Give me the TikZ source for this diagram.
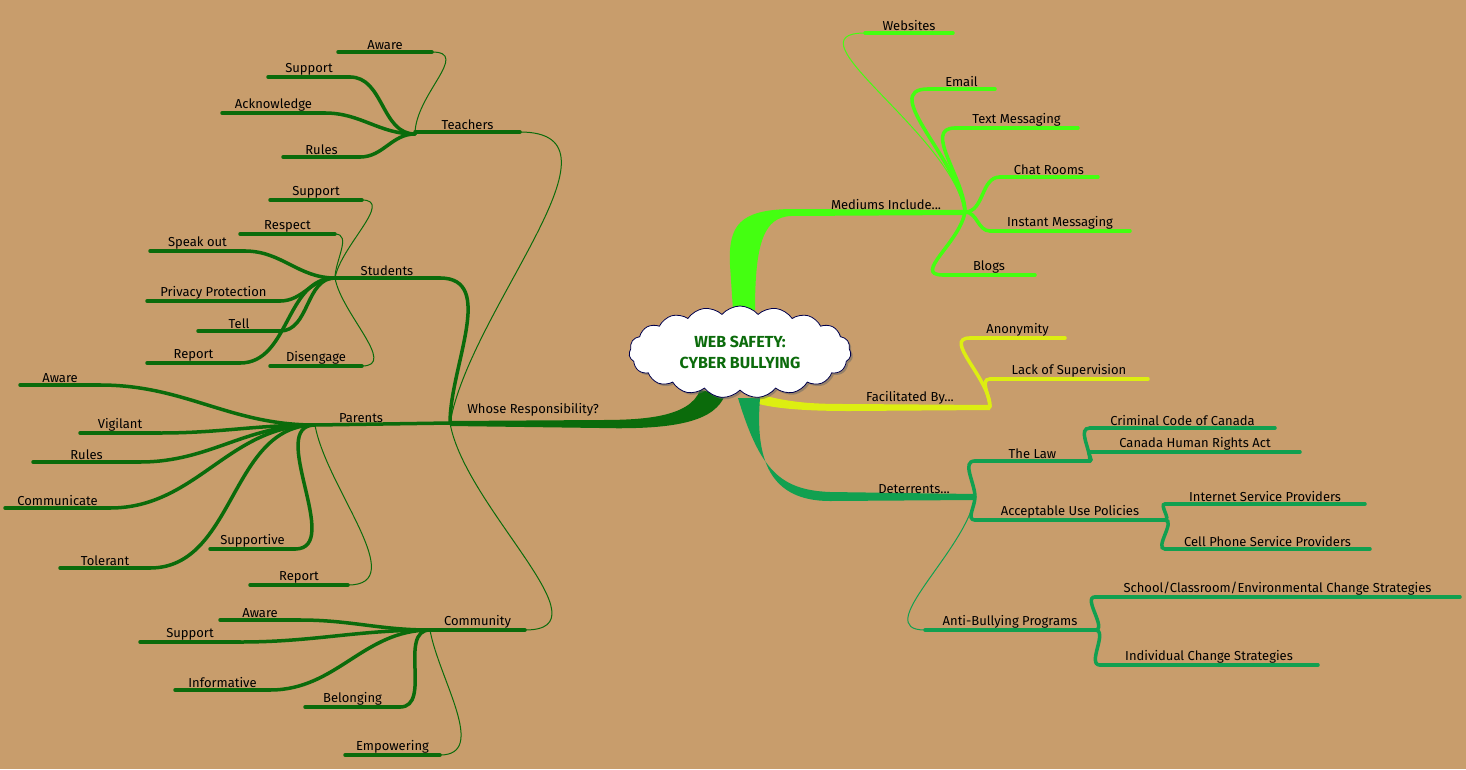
\documentclass[tikz,border=0pt]{standalone}
\usepackage{fontspec}
\setmainfont{Fira Sans}
\usetikzlibrary{shapes.symbols,calc,shadows}
\definecolor{bg}{HTML}{C89D6C}
\definecolor{dg}{HTML}{0B6B0B}
\definecolor{lg}{HTML}{44FF11}
\definecolor{yg}{HTML}{DDEE11}
\definecolor{tg}{HTML}{11A050}
\colorlet{bc}{dg}
\tikzset{br/.style={line width=3.5pt,draw=bc,line cap=round},
 thin/.style={line width=1pt},
 lbl/.style={font=\fontsize{13}{15}\selectfont,text=black,anchor=south,inner sep=2pt}}
% left leaf: #1 conn opts, #2 name, #3 hub, #4 xl, #5 xr, #6 y, #7 text
\newcommand\lfL[7]{\coordinate (#2a) at (#4,#6);\coordinate (#2b) at (#5,#6);
 \draw[br,#1] (#3) to[out=180,in=0] (#2b);\draw[br] (#2b) -- (#2a);
 \node[lbl] (#2) at ($(#2a)!.5!(#2b)$) {#7};}
\newcommand\lfLL[7]{\coordinate (#2a) at (#4,#6);\coordinate (#2b) at (#5,#6);
 \draw[br,thin] (#3) to[#1] (#2b);\draw[br] (#2b) -- (#2a);
 \node[lbl] (#2) at ($(#2a)!.5!(#2b)$) {#7};}
\newcommand\lfR[7]{\coordinate (#2a) at (#4,#6);\coordinate (#2b) at (#5,#6);
 \draw[br] (#3) to[out=0,in=180,#1] (#2a);\draw[br] (#2a) -- (#2b);
 \node[lbl] (#2) at ($(#2a)!.5!(#2b)$) {#7};}
\newcommand\lfRR[7]{\coordinate (#2a) at (#4,#6);\coordinate (#2b) at (#5,#6);
 \draw[br,thin] (#3) to[#1] (#2a);\draw[br] (#2a) -- (#2b);
 \node[lbl] (#2) at ($(#2a)!.5!(#2b)$) {#7};}
\begin{document}
\begin{tikzpicture}[x=1pt,y=-1pt]
\fill[bg] (0,0) rectangle (1466,769);
\useasboundingbox (0,0) rectangle (1466,769);
% ---------- left: whose responsibility
\coordinate (W) at (450,423);
\fill[dg] (700,390) .. controls (690,418) and (640,420) .. (600,420) -- (450,421) -- (450,426) -- (600,428) .. controls (680,430) and (715,420) .. (725,395) -- cycle;
\node[lbl] (whose) at (533,418) {Whose Responsibility?};
% Teachers
\lfLL{out=80,in=0}{teach}{W}{415}{520}{132}{Teachers}
\coordinate (T) at (415,134);
\lfLL{out=90,in=0,looseness=1.2}{taware}{T}{338}{432}{52}{Aware}
\lfL{}{tsupp}{T}{268}{350}{77}{Support}
\lfL{}{tack}{T}{222}{325}{113}{Acknowledge}
\lfL{}{trules}{T}{283}{360}{157}{Rules}
% Students
\coordinate (studb) at (440,278);
\draw[br] (W) to[out=90,in=0] (studb);
\draw[br] (studb) -- (335,278) coordinate (S);
\node[lbl] (stud) at (387,278) {Students};
\lfLL{out=80,in=0}{ssupp}{S}{270}{362}{200}{Support}
\lfLL{out=90,in=0}{sresp}{S}{240}{335}{234}{Respect}
\lfL{}{sspeak}{S}{150}{245}{251}{Speak out}
\lfL{}{spriv}{S}{147}{280}{301}{Privacy Protection}
\lfL{}{stell}{S}{198}{280}{331}{Tell}
\lfL{}{srep}{S}{147}{240}{363}{Report}
\lfLL{out=-80,in=0}{sdis}{S}{270}{362}{366}{Disengage}
% Parents
\draw[br] (W) -- (315,425) coordinate (P);
\node[lbl] (par) at (361,425) {Parents};
\lfL{}{paware}{P}{20}{100}{385}{Aware}
\lfL{}{pvig}{P}{80}{160}{433}{Vigilant}
\lfL{}{prules}{P}{33}{140}{462}{Rules}
\lfL{}{pcomm}{P}{5}{110}{508}{Communicate}
\lfL{}{ptol}{P}{60}{150}{568}{Tolerant}
\lfL{}{psupp}{P}{210}{295}{549}{Supportive}
\lfLL{out=-80,in=0}{prep}{P}{250}{348}{585}{Report}
% Community
\lfLL{out=-80,in=0}{comm}{W}{430}{525}{630}{Community}
\coordinate (C) at (430,630);
\lfL{}{caware}{C}{220}{300}{620}{Aware}
\lfL{}{csupp}{C}{140}{240}{642}{Support}
\lfL{}{cinf}{C}{175}{270}{690}{Informative}
\lfL{}{cbel}{C}{305}{400}{707}{Belonging}
\lfLL{out=-80,in=0}{cemp}{C}{345}{440}{755}{Empowering}
% ---------- right
\colorlet{bc}{lg}
\fill[lg] (733,310) -- (730,265) .. controls (728,225) and (740,210) .. (790,209) -- (965,210) -- (965,215) -- (790,216) .. controls (765,218) and (755,240) .. (755,310) -- cycle;
\coordinate (M) at (965,212);
\node[lbl] (med) at (886,212) {Mediums Include...};
\lfRR{out=100,in=180}{web}{M}{865}{953}{33}{Websites}
\lfR{out=95}{email}{M}{928}{995}{89}{Email}
\lfR{out=90}{text}{M}{955}{1078}{128}{Text Messaging}
\lfR{}{chat}{M}{1000}{1098}{177}{Chat Rooms}
\lfR{}{inst}{M}{990}{1130}{231}{Instant Messaging}
\lfR{out=260,looseness=1.2}{blogs}{M}{943}{1035}{275}{Blogs}
\colorlet{bc}{yg}
\fill[yg] (752,392) .. controls (790,404) and (820,404) .. (850,404) -- (990,405) -- (990,410) -- (850,411) .. controls (800,411) and (770,408) .. (752,402) -- cycle;
\coordinate (F) at (990,407);
\node[lbl] (fac) at (910,406) {Facilitated By...};
\lfR{out=90}{anon}{F}{970}{1065}{338}{Anonymity}
\lfR{out=90}{lack}{F}{990}{1148}{379}{Lack of Supervision}
\colorlet{bc}{tg}
\fill[tg] (738,398) .. controls (760,470) and (780,490) .. (830,492) -- (975,494) -- (975,500) -- (830,501) .. controls (770,501) and (755,460) .. (760,398) -- cycle;
\coordinate (D) at (975,497);
\node[lbl] (det) at (914,496) {Deterrents...};
\lfR{out=90}{law}{D}{975}{1090}{461}{The Law}
\lfR{out=90}{crim}{lawb}{1090}{1275}{428}{Criminal Code of Canada}
\lfR{}{chra}{lawb}{1090}{1300}{452}{Canada Human Rights Act}
\lfR{out=-90}{aup}{D}{975}{1165}{520}{Acceptable Use Policies}
\lfR{}{isp}{aupb}{1165}{1365}{504}{Internet Service Providers}
\lfR{}{cell}{aupb}{1165}{1370}{549}{Cell Phone Service Providers}
\lfRR{out=-100,in=180}{abp}{D}{925}{1095}{630}{Anti-Bullying Programs}
\lfR{}{school}{abpb}{1095}{1460}{597}{School/Classroom/Environmental Change Strategies}
\lfR{}{indiv}{abpb}{1100}{1318}{665}{Individual Change Strategies}
% ---------- center
\node[cloud,cloud puffs=19,cloud puff arc=100,aspect=2.4,minimum width=222pt,minimum height=92pt,
 fill=white,draw=black!70!blue,line width=0.8pt,drop shadow={shadow xshift=2pt,shadow yshift=-2pt,fill=black!60},
 align=center,text=dg,font=\fontsize{16}{21}\selectfont\bfseries] (c) at (740,352) {WEB SAFETY:\\CYBER BULLYING};
\end{tikzpicture}
\end{document}
